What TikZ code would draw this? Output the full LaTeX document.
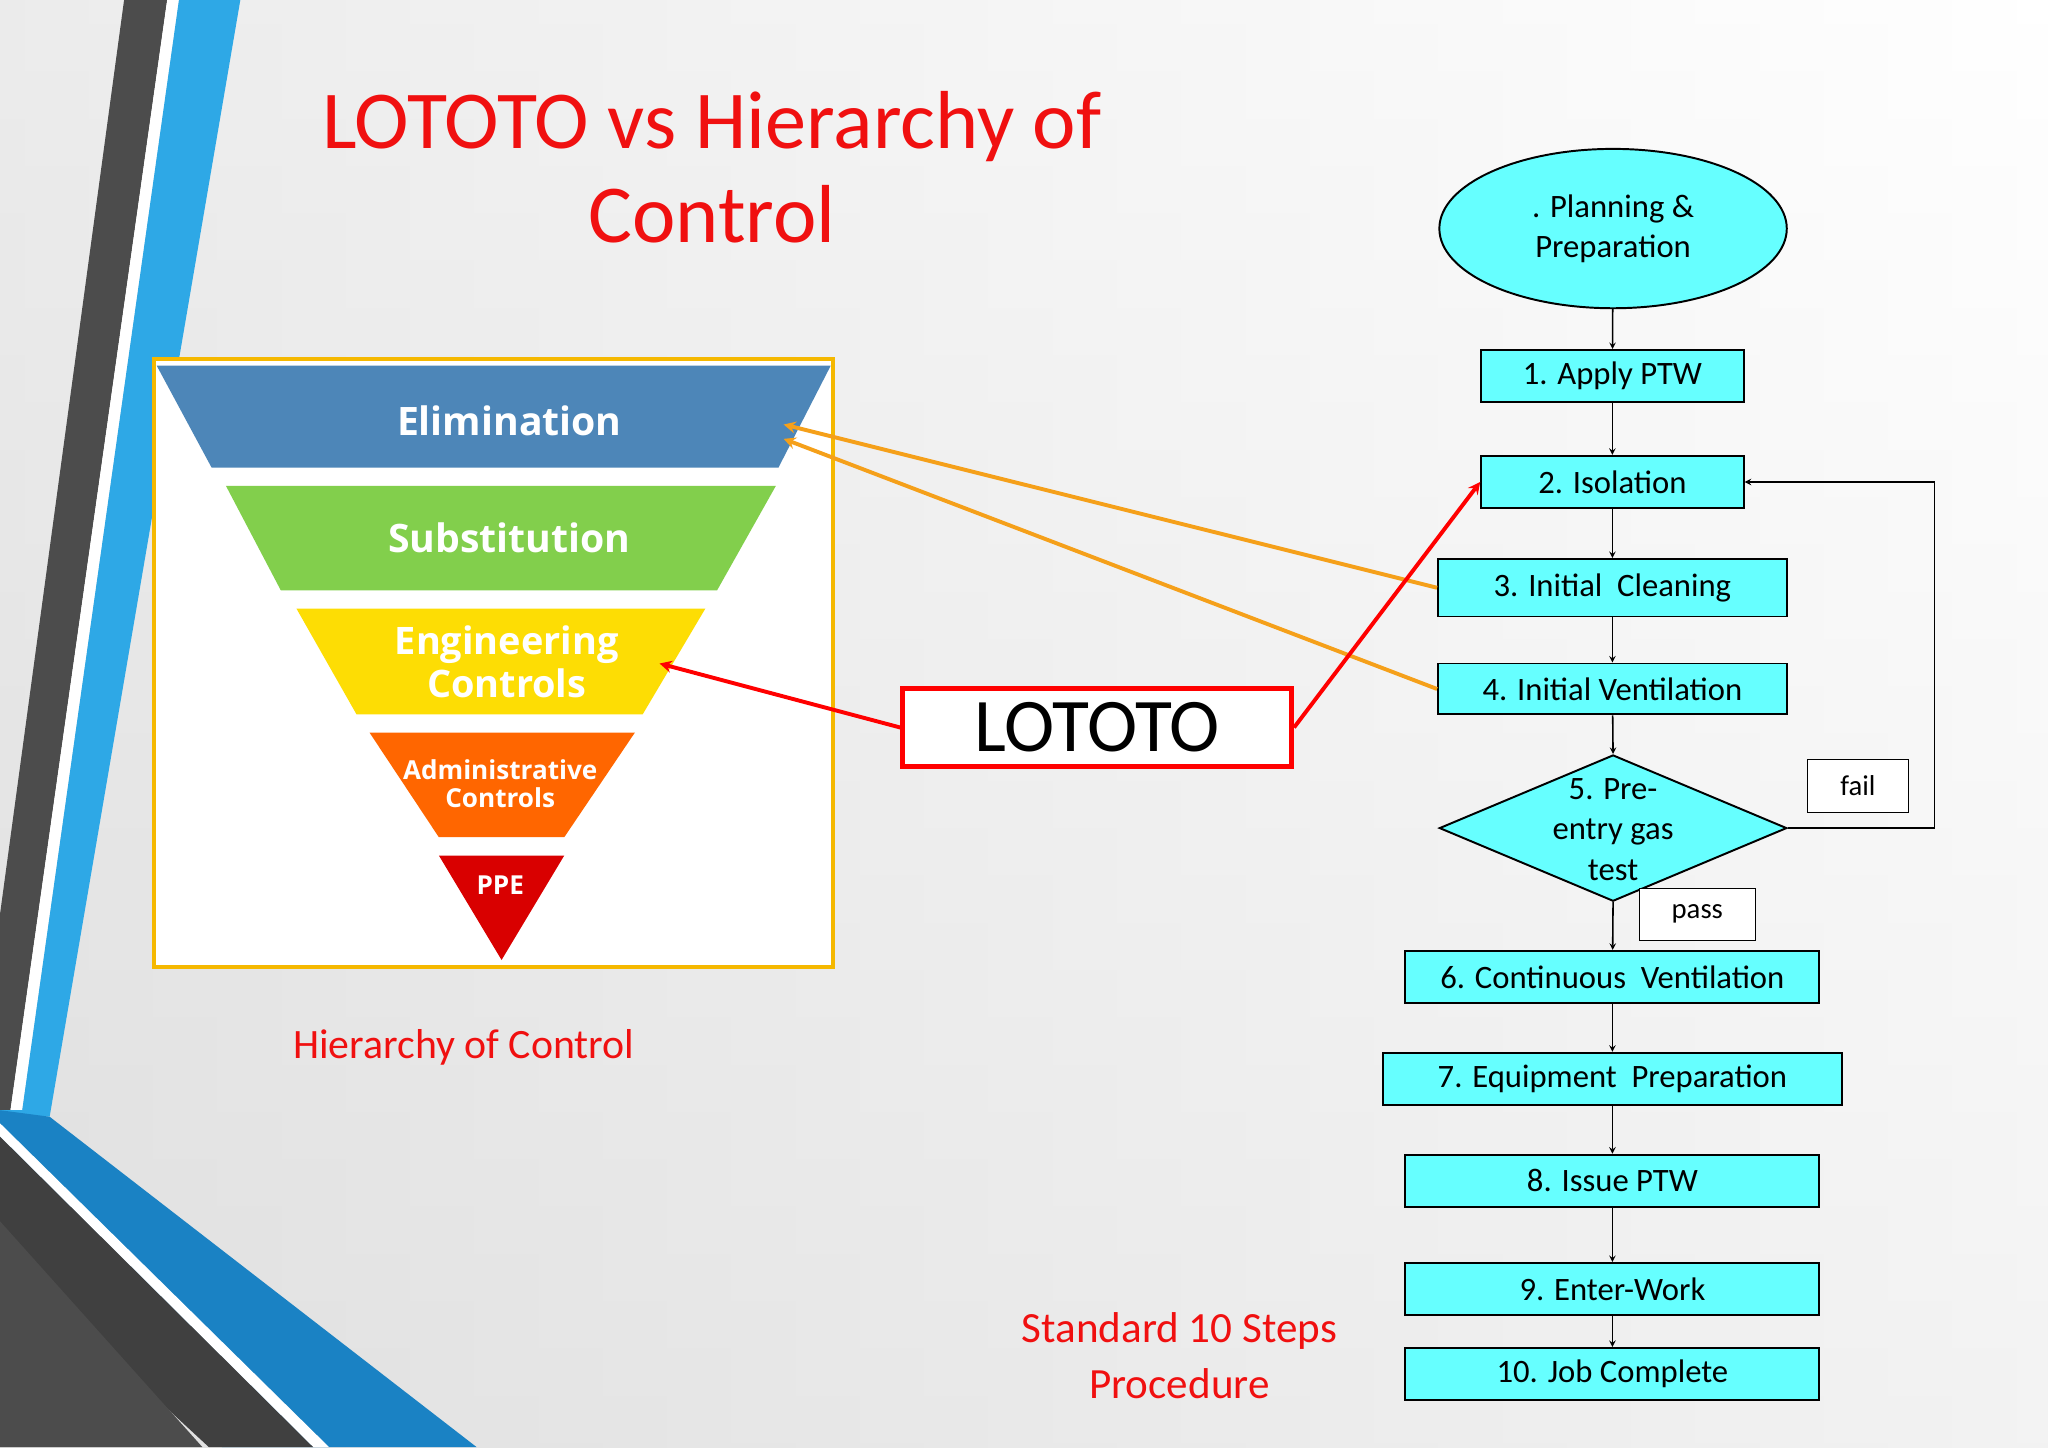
\documentclass[tikz,border=0pt]{standalone}
\usepackage{fontspec}
\setmainfont{Carlito}
\newfontfamily\pyr{Open Sans}
\usetikzlibrary{shapes.geometric}
\definecolor{cy}{HTML}{66FFFF}
\definecolor{ttl}{HTML}{F01010}
\definecolor{frm}{HTML}{F5B800}
\definecolor{orr}{HTML}{F5A01A}
\definecolor{bl1}{HTML}{2EA8E6}
\definecolor{bl2}{HTML}{1A82C4}
\definecolor{el}{HTML}{4D86B8}
\begin{document}
\begin{tikzpicture}[x=1pt,y=-1pt,
 box/.style={draw=black,line width=1.5pt,fill=cy,font=\fontsize{25}{27}\selectfont},
 arr/.style={-stealth,line width=1.2pt},
 lbl/.style={draw=black,fill=white,font=\fontsize{22}{24}\selectfont},
 pt/.style={font=\pyr\bfseries\fontsize{30}{30}\selectfont,text=white,align=center}]
\useasboundingbox (0,0) rectangle (1568,1108);
\shade[top color=white,bottom color=white!88!black] (0,0) rectangle (1568,1108);
\shade[left color=gray!25,right color=white,opacity=.6] (0,0) rectangle (1568,1108);
% left stripes
\fill[black!70] (95,0) -- (128,0) -- (8,850) -- (0,850) -- (0,700) -- cycle;
\fill[white] (128,0) -- (137,0) -- (17,850) -- (8,850) -- cycle;
\fill[bl1] (137,0) -- (184,0) -- (38,855) -- (0,855) -- (0,850) -- (17,850) -- cycle;
\fill[bl2] (0,850) -- (38,855) -- (365,1108) -- (170,1108) -- (0,960) -- cycle;
\fill[black!75] (0,870) -- (240,1108) -- (160,1108) -- (0,960) -- cycle;
\fill[white] (0,860) -- (252,1108) -- (240,1108) -- (0,870) -- cycle;
\fill[black!70] (0,935) -- (155,1108) -- (0,1108) -- cycle;
% title
\node[text=ttl,font=\fontsize{63}{72}\selectfont,align=center] (title) at (545,128) {LOTOTO vs Hierarchy of\\Control};
% pyramid
\node[draw=frm,line width=3pt,fill=white,minimum width=520,minimum height=465,inner sep=0] (frame) at (378,507.5) {};
\fill[el] (120,280)--(636,280)--(596,358)--(162,358)--cycle;
\fill[green!55!black!60!lime!70] (173,372)--(594,372)--(549,452)--(215,452)--cycle;
\fill[yellow!80!orange] (227,466)--(540,466)--(492,547)--(273,547)--cycle;
\fill[orange!80!red] (283,561)--(486,561)--(432,641)--(336,641)--cycle;
\fill[red!85!black] (336,655)--(432,655)--(384,735)--cycle;
\node[pt] (elim) at (390,322) {Elimination};
\node[pt] (subs) at (390,412) {Substitution};
\node[pt,font=\pyr\bfseries\fontsize{29}{33}\selectfont] (eng) at (388,507) {Engineering\\Controls};
\node[pt,font=\pyr\bfseries\fontsize{20}{21}\selectfont] (adm) at (383,600) {Administrative\\Controls};
\node[pt,font=\pyr\bfseries\fontsize{20}{21}\selectfont] (ppe) at (383,678) {PPE};
\coordinate (ea) at (600,325); \coordinate (eb) at (600,336); \coordinate (ec) at (505,508);
\node[text=ttl,font=\fontsize{32}{34}\selectfont] (hoc) at (355,802) {Hierarchy of Control};
\node[draw=red,line width=3.5pt,fill=white,minimum width=298,minimum height=60,font=\fontsize{58}{60}\selectfont] (loto) at (840,557) {LOTOTO};
% flowchart
\node[box,ellipse,minimum width=266,minimum height=122,align=center,font=\fontsize{25}{31}\selectfont] (p) at (1235,175) {. Planning \&\\Preparation};
\node[box,minimum width=201,minimum height=40] (s1) at (1234.5,288) {1. Apply PTW};
\node[box,minimum width=201,minimum height=40] (s2) at (1234.5,369) {2. Isolation};
\node[box,minimum width=267,minimum height=44] (s3) at (1234.5,450) {3. Initial~ Cleaning};
\node[box,minimum width=267,minimum height=39] (s4) at (1234.5,527.5) {4. Initial Ventilation};
\node[box,diamond,minimum width=266,minimum height=112,inner sep=0,align=center,aspect=2.4] (s5) at (1235,634) {};
\node[font=\fontsize{25}{31}\selectfont,align=center] (s5t) at (1235,635) {5. Pre-\\entry gas\\test};
\node[box,minimum width=317,minimum height=40] (s6) at (1234.5,748) {6. Continuous~ Ventilation};
\node[box,minimum width=351,minimum height=40] (s7) at (1234.5,826) {7. Equipment~ Preparation};
\node[box,minimum width=317,minimum height=40] (s8) at (1234.5,904) {8. Issue PTW};
\node[box,minimum width=317,minimum height=40] (s9) at (1234.5,987) {9. Enter-Work};
\node[box,minimum width=317,minimum height=40] (s10) at (1234.5,1052) {10. Job Complete};
\node[lbl,minimum width=77,minimum height=41] (fail) at (1422.5,601.5) {fail};
\node[lbl,minimum width=89,minimum height=40] (pass) at (1299.5,700) {pass};
\draw[arr] (p) -- (s1); \draw[arr] (s1) -- (s2); \draw[arr] (s2) -- (s3);
\draw[arr] (s3) -- (s4); \draw[arr] (s4) -- (s5.north); \draw[arr] (s5.south) -- (s6);
\draw[arr] (s6) -- (s7); \draw[arr] (s7) -- (s8); \draw[arr] (s8) -- (s9); \draw[arr] (s9) -- (s10);
\coordinate (fa) at (1481,634); \coordinate (fb) at (1481,369);
\draw[arr] (s5.east) -- (fa) -- (fb) -- (s2.east);
\draw[arr,draw=orr,line width=3pt] (s3.west) -- (ea);
\draw[arr,draw=orr,line width=3pt] (s4.west) -- (eb);
\draw[arr,draw=red,line width=3pt] (loto.west) -- (ec);
\draw[arr,draw=red,line width=3pt] (loto.east) -- (s2.west);
\node[text=ttl,font=\fontsize{33}{43}\selectfont,align=center] (std) at (903,1038) {Standard 10 Steps\\Procedure};
\end{tikzpicture}
\end{document}
